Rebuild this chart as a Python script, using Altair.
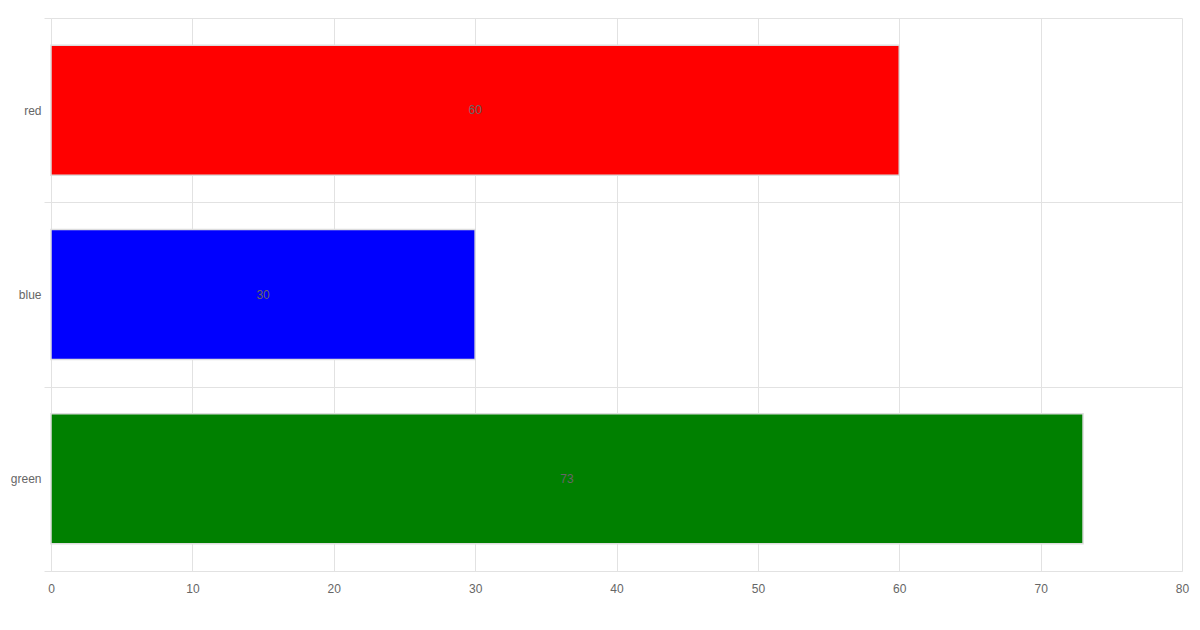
import pandas as pd
import altair as alt


# ── Data ───────────────────────────────────────────────────────────────────────

CATEGORIES = ['red', 'blue', 'green']
VALUES = [60, 30, 73]
BAR_COLORS = ['#ff0000', '#0000ff', '#008000']

FONT = 'Liberation Sans'
GRID = '#e2e2e2'
TEXT = '#666666'


df = pd.DataFrame({'name': CATEGORIES, 'value': VALUES})
df['mid'] = df['value'] / 2

y = alt.Y(
    'name:N',
    sort=CATEGORIES,
    title=None,
    scale=alt.Scale(paddingInner=0, paddingOuter=0),
    axis=alt.Axis(
        tickBand='extent', grid=True, gridColor=GRID, domainColor=GRID,
        tickColor=GRID, tickSize=7, labelPadding=3, labelColor=TEXT,
        labelFont=FONT, labelFontSize=12,
    ),
)

bars = alt.Chart(df).mark_bar(
    height=alt.RelativeBandSize(band=0.705), stroke='#dddddd', strokeWidth=1.5,
).encode(
    x=alt.X(
        'value:Q',
        title=None,
        scale=alt.Scale(domain=[0, 80], nice=False),
        axis=alt.Axis(
            values=list(range(0, 81, 10)), gridColor=GRID, domainColor=GRID,
            ticks=False, labelPadding=12, labelColor=TEXT, labelFont=FONT,
            labelFontSize=12, labelFlush=False,
        ),
    ),
    y=y,
    color=alt.Color(
        'name:N',
        scale=alt.Scale(domain=CATEGORIES, range=BAR_COLORS),
        legend=None,
    ),
)

labels = alt.Chart(df).mark_text(
    font=FONT, fontSize=12, color=TEXT, align='center', baseline='middle',
).encode(
    x='mid:Q',
    y=alt.Y('name:N', sort=CATEGORIES),
    text='value:Q',
)

chart = (
    (bars + labels)
    .properties(
        width=1131,
        height=553,
        autosize=alt.AutoSizeParams(type='none'),
        padding={'left': 43, 'top': 10, 'right': 10, 'bottom': 40},
    )
    .configure_view(stroke=None)
)

chart.save('out.html', embed_options={'renderer': 'svg', 'actions': False})
